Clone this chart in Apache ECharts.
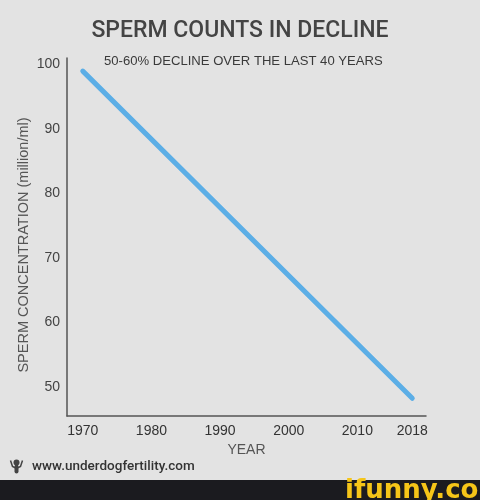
<!DOCTYPE html>
<html>
<head>
<meta charset="utf-8">
<script src="https://cdn.jsdelivr.net/npm/echarts@6/dist/echarts.min.js"></script>
<style>
html,body{margin:0;padding:0;background:#e3e3e3;}
#c{width:480px;height:500px;}
</style>
</head>
<body>
<div id="c"></div>
<script>
var years = [1970, 2018];
var concentration = [98.9, 48.3];
var xTickLabels = [1970, 1980, 1990, 2000, 2010, 2018];
var yTickLabels = [50, 60, 70, 80, 90, 100];

var chart = echarts.init(document.getElementById('c'));
var data = years.map(function (y, i) { return [y, concentration[i]]; });

chart.setOption({
  backgroundColor: '#e3e3e3',
  animation: false,
  title: [{
    text: 'SPERM COUNTS IN DECLINE',
    left: 'center', top: 15,
    textStyle: { fontFamily: 'Roboto', fontWeight: 500, fontSize: 23, color: '#444444' }
  }, {
    text: '50-60% DECLINE OVER THE LAST 40 YEARS',
    left: 99, top: 50,
    textStyle: { fontFamily: 'Liberation Sans', fontWeight: 'normal', fontSize: 13.1, color: '#3a3a3a' }
  }],
  grid: { left: 67, right: 54, top: 58, bottom: 84 },
  xAxis: {
    type: 'value', min: 1967.7, max: 2020,
    name: 'YEAR', nameLocation: 'middle', nameGap: 27, nameMoveOverlap: false,
    nameTextStyle: { fontFamily: 'Liberation Sans', fontSize: 14, color: '#555555' },
    axisLine: { show: true, lineStyle: { color: '#555555', width: 1.5 } },
    axisTick: { show: false },
    splitLine: { show: false },
    axisLabel: {
      customValues: xTickLabels, margin: 8,
      fontFamily: 'Liberation Sans', fontSize: 14, color: '#333333',
      formatter: function (v) { return String(v); }
    }
  },
  yAxis: {
    type: 'value', min: 45.56, max: 100.93,
    name: 'SPERM CONCENTRATION (million/ml)', nameLocation: 'middle', nameGap: 36, nameMoveOverlap: false,
    nameRotate: 90,
    nameTextStyle: { fontFamily: 'Liberation Sans', fontSize: 14.5, color: '#555555', padding: [0, 16, 0, 0] },
    axisLine: { show: true, lineStyle: { color: '#555555', width: 1.5 } },
    axisTick: { show: false },
    splitLine: { show: false },
    axisLabel: {
      customValues: yTickLabels, margin: 7,
      fontFamily: 'Liberation Sans', fontSize: 14, color: '#444444'
    }
  },
  series: [{
    type: 'line', data: data, symbol: 'none',
    lineStyle: { color: '#5caee6', width: 5, cap: 'round' }
  }],
  graphic: [
    { type: 'rect', left: 0, top: 480, shape: { width: 480, height: 20 }, style: { fill: '#1b1b1f' } },
    { type: 'text', left: 345, top: 478, style: { text: 'ifunny.co', fill: '#f5c518', font: 'bold 26px "DejaVu Sans"' } },
    { type: 'text', left: 32, top: 460, style: { text: 'www.underdogfertility.com', fill: '#333333', font: '500 13.5px "Roboto"' } },
    { type: 'group', left: 8, top: 458, children: [
      { type: 'circle', shape: { cx: 7, cy: 4, r: 3 }, style: { fill: '#444' } },
      { type: 'rect', shape: { x: 5, y: 6, width: 4, height: 9, r: 2 }, style: { fill: '#444' } },
      { type: 'polyline', shape: { points: [[1,2],[3,8],[7,10],[11,8],[13,2]] }, style: { stroke: '#444', lineWidth: 1.5, fill: 'none' } }
    ]}
  ]
});
</script>
</body>
</html>
